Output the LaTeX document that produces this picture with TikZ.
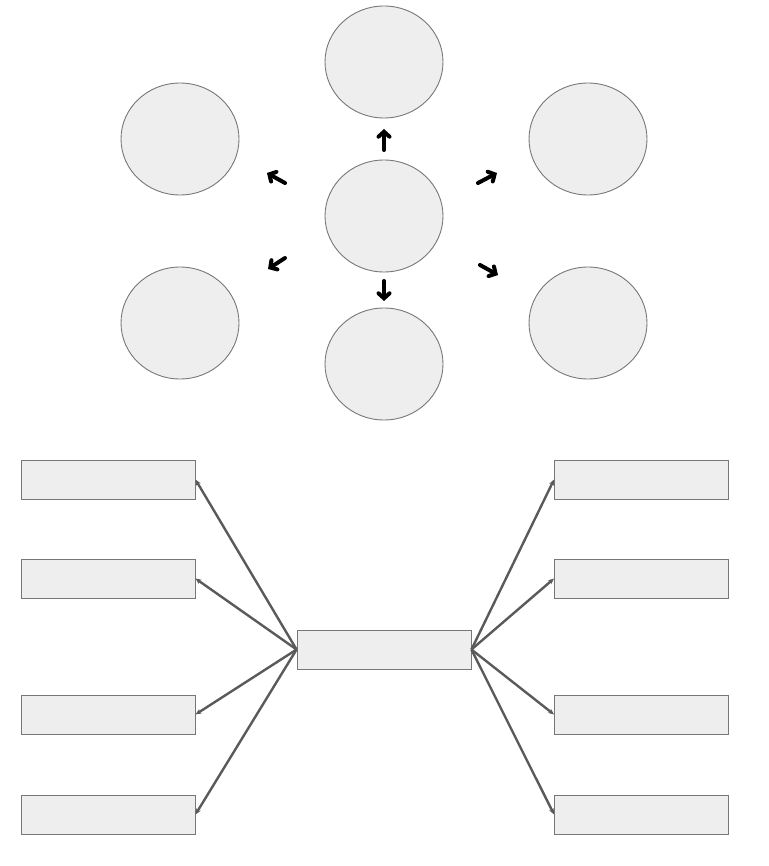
\documentclass[tikz,border=0pt]{standalone}
\usetikzlibrary{shapes.geometric,arrows.meta}
\definecolor{boxfill}{HTML}{EEEEEE}
\definecolor{boxline}{HTML}{777777}
\definecolor{conn}{HTML}{5A5A5A}
\begin{document}
\begin{tikzpicture}[x=1pt,y=-1pt,
  circ/.style={ellipse,draw=boxline,fill=boxfill,line width=0.9pt,minimum width=118pt,minimum height=112pt,inner sep=0pt},
  rbox/.style={rectangle,draw=boxline,fill=boxfill,line width=0.9pt,minimum width=174pt,minimum height=39pt,inner sep=0pt},
  bigarrow/.style={line width=4pt,line cap=round,-{Straight Barb[length=5pt,width=11pt,line cap=round]}},
  connarrow/.style={draw=conn,line width=2.4pt,-{Stealth[length=6pt,width=5pt]}}]
\useasboundingbox (0,0) rectangle (768,866);
% circles
\node[circ] (ct) at (384,62) {};
\node[circ] (cc) at (384,216) {};
\node[circ] (cb) at (384,364) {};
\node[circ] (lt) at (180,139) {};
\node[circ] (lb) at (180,323) {};
\node[circ] (rt) at (588,139) {};
\node[circ] (rb) at (588,323) {};
% floating arrows
\coordinate (a1s) at (384,150); \coordinate (a1e) at (384,129);
\coordinate (a2s) at (384,281); \coordinate (a2e) at (384,301);
\coordinate (a3s) at (285,183); \coordinate (a3e) at (267,173);
\coordinate (a4s) at (478,183); \coordinate (a4e) at (497,173);
\coordinate (a5s) at (285,258); \coordinate (a5e) at (268,269);
\coordinate (a6s) at (480,265); \coordinate (a6e) at (498,275);
\draw[bigarrow] (a1s) -- (a1e);
\draw[bigarrow] (a2s) -- (a2e);
\draw[bigarrow] (a3s) -- (a3e);
\draw[bigarrow] (a4s) -- (a4e);
\draw[bigarrow] (a5s) -- (a5e);
\draw[bigarrow] (a6s) -- (a6e);
% rectangles
\node[rbox] (c) at (384,649.5) {};
\node[rbox] (l1) at (108,479.5) {};
\node[rbox] (l2) at (108,578.5) {};
\node[rbox] (l3) at (108,714.5) {};
\node[rbox] (l4) at (108,814.5) {};
\node[rbox] (r1) at (641.5,479.5) {};
\node[rbox] (r2) at (641.5,578.5) {};
\node[rbox] (r3) at (641.5,714.5) {};
\node[rbox] (r4) at (641.5,814.5) {};
\foreach \n in {l1,l2,l3,l4}{\draw[connarrow] (c.west) -- (\n.east);}
\foreach \n in {r1,r2,r3,r4}{\draw[connarrow] (c.east) -- (\n.west);}
\end{tikzpicture}
\end{document}
